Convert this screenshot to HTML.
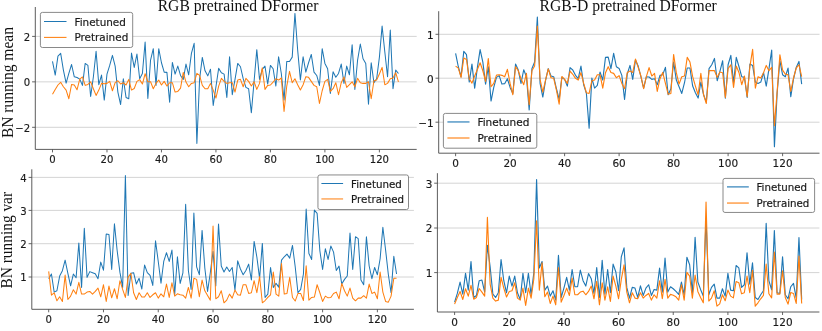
<!DOCTYPE html>
<html><head><meta charset="utf-8"><title>BN statistics</title>
<style>
html,body{margin:0;padding:0;background:#fff;}
body{width:822px;height:331px;overflow:hidden;position:relative;}
svg{position:absolute;left:0;top:0;display:block;}
.t{font-family:"DejaVu Sans","Liberation Sans",sans-serif;font-size:10.1px;fill:#1a1a1a;stroke:#1a1a1a;stroke-width:0.15px;}
.l{font-family:"DejaVu Sans","Liberation Sans",sans-serif;font-size:10.43px;fill:#1a1a1a;stroke:#1a1a1a;stroke-width:0.18px;}
.h{font-family:"Liberation Serif","Times New Roman",serif;font-size:15.4px;fill:#111;}
</style></head>
<body>
<svg width="822" height="331" viewBox="0 0 822 331">
<rect width="822" height="331" fill="#fff"/>
<line x1="35.3" y1="36.4" x2="416.7" y2="36.4" stroke="#cfcfcf" stroke-width="0.9"/>
<line x1="35.3" y1="81.85" x2="416.7" y2="81.85" stroke="#cfcfcf" stroke-width="0.9"/>
<line x1="35.3" y1="127.3" x2="416.7" y2="127.3" stroke="#cfcfcf" stroke-width="0.9"/>
<polyline points="52.5,61.41 55.22,75.06 57.95,56.06 60.67,53.38 63.4,70.11 66.12,83.11 68.84,73.46 71.57,64.49 74.29,76.8 77.02,77.47 79.74,79.08 82.46,85.39 85.19,63.42 87.91,65.43 90.64,96.5 93.36,77 96.08,51.37 98.81,84.72 101.53,75.06 104.26,100.11 106.98,74.12 109.7,65.43 112.43,55.39 115.15,66.09 117.88,92.08 120.6,104.53 123.32,78.7 126.05,97.43 128.77,98.77 131.5,52.98 134.22,67.43 136.94,54.05 139.67,78.7 142.39,73.46 145.12,42.01 147.84,98.37 150.56,60.07 153.29,48.7 156.01,85.39 158.74,48.7 161.46,62.75 164.18,72.12 166.91,72.38 169.63,102.12 172.36,62.48 175.08,74.12 177.8,66.09 180.53,75.46 183.25,79.48 185.98,64.09 188.7,74.79 191.42,53.38 194.15,43.35 196.87,143.5 199.6,79 202.32,57.4 205.04,70.78 207.77,75.86 210.49,69.17 213.22,105.46 215.94,86.73 218.66,68.37 221.39,72.79 224.11,74.12 226.84,97.43 229.56,56.73 232.28,94.76 235.01,79.37 237.73,63.42 240.46,66.76 243.18,78.7 245.9,87.4 248.63,88.73 251.35,112.82 254.08,81.24 256.8,49.64 259.52,79.37 262.25,69.44 264.97,66.09 267.7,84.05 270.42,65.43 273.14,68.77 275.87,86.06 278.59,56.73 281.32,73.46 284.04,100.11 286.76,61.41 289.49,61.41 292.21,57.13 294.94,13.4 297.66,50.04 300.38,80.04 303.11,56.73 305.83,72.12 308.56,62.75 311.28,54.45 314,72.12 316.73,75.46 319.45,85.39 322.18,48.7 324.9,63.42 327.62,68.77 330.35,93.42 333.07,71.85 335.8,77.2 338.52,73.46 341.24,64.09 343.97,83.38 346.69,66.09 349.42,74.79 352.14,44.68 354.86,89.4 357.59,60.07 360.31,44.01 363.04,58.73 365.76,63.42 368.48,104.12 371.21,62.75 373.93,82.71 376.66,78.7 379.38,57.4 382.1,26.1 384.83,52.04 387.55,76.8 390.28,30.1 393,88.73 395.72,70.11 398.45,73.46" fill="none" stroke="#1f77b4" stroke-width="1.02" stroke-opacity="1" stroke-linejoin="round" stroke-linecap="butt"/>
<polyline points="52.5,94.36 55.22,89.4 57.95,84.99 60.67,82.31 63.4,86.73 66.12,90.07 68.84,98.77 71.57,84.45 74.29,84.99 77.02,89.81 79.74,79.1 82.46,76.96 85.19,85.39 87.91,84.45 90.64,81.78 93.36,88.73 96.08,95.43 98.81,90.07 101.53,83.38 104.26,83.65 106.98,83.38 109.7,81.37 112.43,90.74 115.15,82.71 117.88,80.71 120.6,84.05 123.32,82.71 126.05,84.99 128.77,79.37 131.5,90.07 134.22,88.47 136.94,81.37 139.67,79.64 142.39,84.05 145.12,73.75 147.84,81.78 150.56,81.78 153.29,88.73 156.01,83.38 158.74,80.04 161.46,84.99 164.18,81.37 166.91,86.06 169.63,82.71 172.36,82.71 175.08,92.08 177.8,91.41 180.53,88.07 183.25,72.41 185.98,82.04 188.7,86.73 191.42,83.38 194.15,82.71 196.87,73.35 199.6,75.35 202.32,85.39 205.04,88.73 207.77,88.73 210.49,83.38 213.22,90.07 215.94,98.1 218.66,86.06 221.39,78.3 224.11,81.37 226.84,83.38 229.56,82.71 232.28,82.71 235.01,92.08 237.73,80.04 240.46,79.37 243.18,86.73 245.9,78.3 248.63,81.37 251.35,86.06 254.08,81.78 256.8,89.4 259.52,83.38 262.25,67.8 264.97,89.4 267.7,85.39 270.42,84.99 273.14,82.04 275.87,78.7 278.59,80.04 281.32,78.03 284.04,111.48 286.76,86.06 289.49,71.34 292.21,82.71 294.94,78.7 297.66,84.72 300.38,90.07 303.11,84.72 305.83,76.69 308.56,77.36 311.28,81.37 314,85.39 316.73,86.73 319.45,103.46 322.18,90.74 324.9,81.37 327.62,79.37 330.35,91.41 333.07,88.73 335.8,82.71 338.52,94.76 341.24,82.71 343.97,76.96 346.69,87.4 349.42,84.72 352.14,81.78 354.86,86.73 357.59,78.3 360.31,82.71 363.04,83.38 365.76,83.38 368.48,81.78 371.21,98.77 373.93,80.71 376.66,80.04 379.38,74.01 382.1,67.4 384.83,84.72 387.55,83.38 390.28,78.7 393,78.03 395.72,72.68 398.45,81.78" fill="none" stroke="#ff7f0e" stroke-width="1.02" stroke-opacity="1" stroke-linejoin="round" stroke-linecap="butt"/>
<path d="M35.3 7V149.4H416.7" fill="none" stroke="#4a4a4a" stroke-width="0.9"/>
<line x1="32.1" y1="36.4" x2="35.3" y2="36.4" stroke="#4a4a4a" stroke-width="0.85"/>
<text transform="translate(30.2,40.7) scale(1,1.05)" text-anchor="end" class="t" style="font-size:10.1px">2</text>
<line x1="32.1" y1="81.85" x2="35.3" y2="81.85" stroke="#4a4a4a" stroke-width="0.85"/>
<text transform="translate(30.2,86.15) scale(1,1.05)" text-anchor="end" class="t" style="font-size:10.1px">0</text>
<line x1="32.1" y1="127.3" x2="35.3" y2="127.3" stroke="#4a4a4a" stroke-width="0.85"/>
<text transform="translate(30.2,131.6) scale(1,1.05)" text-anchor="end" class="t" style="font-size:10.1px">−2</text>
<line x1="52.5" y1="149.4" x2="52.5" y2="152.4" stroke="#4a4a4a" stroke-width="0.85"/>
<text transform="translate(52.5,162.9) scale(1,1.05)" text-anchor="middle" class="t" style="font-size:10.1px">0</text>
<line x1="106.98" y1="149.4" x2="106.98" y2="152.4" stroke="#4a4a4a" stroke-width="0.85"/>
<text transform="translate(106.98,162.9) scale(1,1.05)" text-anchor="middle" class="t" style="font-size:10.1px">20</text>
<line x1="161.46" y1="149.4" x2="161.46" y2="152.4" stroke="#4a4a4a" stroke-width="0.85"/>
<text transform="translate(161.46,162.9) scale(1,1.05)" text-anchor="middle" class="t" style="font-size:10.1px">40</text>
<line x1="215.94" y1="149.4" x2="215.94" y2="152.4" stroke="#4a4a4a" stroke-width="0.85"/>
<text transform="translate(215.94,162.9) scale(1,1.05)" text-anchor="middle" class="t" style="font-size:10.1px">60</text>
<line x1="270.42" y1="149.4" x2="270.42" y2="152.4" stroke="#4a4a4a" stroke-width="0.85"/>
<text transform="translate(270.42,162.9) scale(1,1.05)" text-anchor="middle" class="t" style="font-size:10.1px">80</text>
<line x1="324.9" y1="149.4" x2="324.9" y2="152.4" stroke="#4a4a4a" stroke-width="0.85"/>
<text transform="translate(324.9,162.9) scale(1,1.05)" text-anchor="middle" class="t" style="font-size:10.1px">100</text>
<line x1="379.38" y1="149.4" x2="379.38" y2="152.4" stroke="#4a4a4a" stroke-width="0.85"/>
<text transform="translate(379.38,162.9) scale(1,1.05)" text-anchor="middle" class="t" style="font-size:10.1px">120</text>
<rect x="40.4" y="12.4" width="92.3" height="35.1" rx="2" ry="2" fill="#fff" fill-opacity="0.95" stroke="#7c7c7c" stroke-width="0.9"/>
<line x1="44" y1="21.5" x2="66.5" y2="21.5" stroke="#1f77b4" stroke-width="1.02" stroke-opacity="1"/>
<line x1="44" y1="37.4" x2="66.5" y2="37.4" stroke="#ff7f0e" stroke-width="1.02" stroke-opacity="1"/>
<text x="74.4" y="25.5" class="l" style="font-size:10.43px">Finetuned</text>
<text x="74.4" y="41.2" class="l" style="font-size:10.43px">Pretrained</text>
<line x1="438.7" y1="34.3" x2="819.5" y2="34.3" stroke="#cfcfcf" stroke-width="0.9"/>
<line x1="438.7" y1="78.2" x2="819.5" y2="78.2" stroke="#cfcfcf" stroke-width="0.9"/>
<line x1="438.7" y1="122.2" x2="819.5" y2="122.2" stroke="#cfcfcf" stroke-width="0.9"/>
<polyline points="455.6,53.37 458.33,66.75 461.05,76.79 463.78,51.36 466.5,54.71 469.23,82.06 471.95,64.07 474.68,88.08 477.4,67.42 480.12,49.62 482.85,62.07 485.58,84.07 488.3,66.75 491.03,101.06 493.75,87.41 496.48,77.37 499.2,75.64 501.93,84.07 504.65,83.66 507.38,78.71 510.1,87.41 512.83,93.43 515.55,64.07 518.27,70.09 521,83.4 523.73,69.75 526.45,76.71 529.18,110 531.9,68.76 534.62,62.07 537.35,17.1 540.08,83.4 542.8,97.05 545.52,80.72 548.25,68.68 550.98,76.04 553.7,76.71 556.43,88.75 559.15,99.46 561.88,77.37 564.6,79.38 567.33,86.07 570.05,67.61 572.77,70.01 575.5,75.37 578.23,78.71 580.95,66 583.68,84.73 586.4,93.43 589.12,128.1 591.85,78.04 594.58,88.08 597.3,85.4 600.03,72.02 602.75,80.05 605.48,57.38 608.2,57.11 610.93,68.68 613.65,53.37 616.38,66.75 619.1,68.41 621.83,75.37 624.55,99.46 627.28,74.03 630,65.41 632.73,79.38 635.45,60.06 638.18,66.08 640.9,76.71 643.62,88.08 646.35,76.71 649.08,76.97 651.8,79.38 654.53,78.71 657.25,84.73 659.98,75.37 662.7,74.7 665.43,67.34 668.15,94.77 670.88,88.75 673.6,62.07 676.33,80.05 679.05,86.74 681.78,93.43 684.5,82.73 687.23,68.01 689.95,68.01 692.68,86.07 695.4,92.76 698.12,98.12 700.85,82.06 703.58,94.77 706.3,102.13 709.03,68.68 711.75,64.74 714.48,58.45 717.2,80.72 719.92,71.35 722.65,60.73 725.38,98.12 728.1,64.74 730.83,55.37 733.55,82.73 736.28,57.38 739,66.75 741.73,76.71 744.45,77.37 747.17,97.45 749.9,64.07 752.62,65.41 755.35,82.06 758.08,83.4 760.8,82.06 763.53,72.69 766.25,86.07 768.98,68.68 771.7,50.02 774.42,146.8 777.15,92.76 779.88,60.73 782.6,74.78 785.33,76.79 788.05,68.09 790.78,96.78 793.5,79 796.23,67.42 798.95,61.4 801.67,84.07" fill="none" stroke="#1f77b4" stroke-width="1.12" stroke-opacity="1" stroke-linejoin="round" stroke-linecap="butt"/>
<polyline points="455.6,66.08 458.33,68.09 461.05,77.37 463.78,58.05 466.5,59.39 469.23,78.71 471.95,83.13 474.68,76.04 477.4,69.43 480.12,62.73 482.85,70.76 485.58,81.39 488.3,58.45 491.03,86.74 493.75,83.4 496.48,75.1 499.2,74.7 501.93,75.37 504.65,76.71 507.38,69.35 510.1,83.4 512.83,94.77 515.55,66.75 518.27,70.76 521,78.71 523.73,84.73 526.45,73.36 529.18,104.81 531.9,70.68 534.62,66.08 537.35,26.1 540.08,79.38 542.8,92.09 545.52,80.05 548.25,68.94 550.98,77.78 553.7,78.31 556.43,90.09 559.15,104.14 561.88,76.44 564.6,79.38 567.33,83.4 570.05,71.09 572.77,74.3 575.5,78.31 578.23,80.05 580.95,72.69 583.68,83.4 586.4,92.76 589.12,93.43 591.85,80.72 594.58,80.05 597.3,74.7 600.03,74.7 602.75,88.08 605.48,72.69 608.2,66.67 610.93,72.42 613.65,73.36 616.38,77.78 619.1,75.64 621.83,83.4 624.55,88.75 627.28,72.42 630,71.09 632.73,72.42 635.45,58.99 638.18,67.34 640.9,76.04 643.62,88.75 646.35,76.71 649.08,67.61 651.8,76.04 654.53,73.36 657.25,91.43 659.98,78.71 662.7,72.42 665.43,83.4 668.15,94.1 670.88,93.43 673.6,54.44 676.33,72.69 679.05,84.07 681.78,76.71 684.5,76.04 687.23,57.38 689.95,62.07 692.68,76.71 695.4,86.07 698.12,94.77 700.85,73.36 703.58,94.77 706.3,103.47 709.03,70.68 711.75,70.68 714.48,70.68 717.2,77.37 719.92,72.02 722.65,72.69 725.38,97.45 728.1,68.68 730.83,64.74 733.55,87.41 736.28,66.08 739,72.69 741.73,84.73 744.45,76.04 747.17,96.78 749.9,66.67 752.62,49.35 755.35,88.08 758.08,76.71 760.8,78.04 763.53,72.69 766.25,65.41 768.98,70.68 771.7,67.42 774.42,125.8 777.15,91.43 779.88,54.71 782.6,70.09 785.33,74.11 788.05,74.78 790.78,91.43 793.5,78 796.23,68.09 798.95,64.74 801.67,76.71" fill="none" stroke="#ff7f0e" stroke-width="1.12" stroke-opacity="1" stroke-linejoin="round" stroke-linecap="butt"/>
<path d="M438.7 11.2V153.2H819.5" fill="none" stroke="#4a4a4a" stroke-width="0.9"/>
<line x1="435.5" y1="34.3" x2="438.7" y2="34.3" stroke="#4a4a4a" stroke-width="0.85"/>
<text transform="translate(433.6,38.6) scale(1,1.05)" text-anchor="end" class="t" style="font-size:10.5px">1</text>
<line x1="435.5" y1="78.2" x2="438.7" y2="78.2" stroke="#4a4a4a" stroke-width="0.85"/>
<text transform="translate(433.6,82.5) scale(1,1.05)" text-anchor="end" class="t" style="font-size:10.5px">0</text>
<line x1="435.5" y1="122.2" x2="438.7" y2="122.2" stroke="#4a4a4a" stroke-width="0.85"/>
<text transform="translate(433.6,126.5) scale(1,1.05)" text-anchor="end" class="t" style="font-size:10.5px">−1</text>
<line x1="455.6" y1="153.2" x2="455.6" y2="156.2" stroke="#4a4a4a" stroke-width="0.85"/>
<text transform="translate(455.6,166.7) scale(1,1.05)" text-anchor="middle" class="t" style="font-size:10.5px">0</text>
<line x1="510.1" y1="153.2" x2="510.1" y2="156.2" stroke="#4a4a4a" stroke-width="0.85"/>
<text transform="translate(510.1,166.7) scale(1,1.05)" text-anchor="middle" class="t" style="font-size:10.5px">20</text>
<line x1="564.6" y1="153.2" x2="564.6" y2="156.2" stroke="#4a4a4a" stroke-width="0.85"/>
<text transform="translate(564.6,166.7) scale(1,1.05)" text-anchor="middle" class="t" style="font-size:10.5px">40</text>
<line x1="619.1" y1="153.2" x2="619.1" y2="156.2" stroke="#4a4a4a" stroke-width="0.85"/>
<text transform="translate(619.1,166.7) scale(1,1.05)" text-anchor="middle" class="t" style="font-size:10.5px">60</text>
<line x1="673.6" y1="153.2" x2="673.6" y2="156.2" stroke="#4a4a4a" stroke-width="0.85"/>
<text transform="translate(673.6,166.7) scale(1,1.05)" text-anchor="middle" class="t" style="font-size:10.5px">80</text>
<line x1="728.1" y1="153.2" x2="728.1" y2="156.2" stroke="#4a4a4a" stroke-width="0.85"/>
<text transform="translate(728.1,166.7) scale(1,1.05)" text-anchor="middle" class="t" style="font-size:10.5px">100</text>
<line x1="782.6" y1="153.2" x2="782.6" y2="156.2" stroke="#4a4a4a" stroke-width="0.85"/>
<text transform="translate(782.6,166.7) scale(1,1.05)" text-anchor="middle" class="t" style="font-size:10.5px">120</text>
<rect x="443.4" y="113.4" width="93.4" height="34.8" rx="2" ry="2" fill="#fff" fill-opacity="0.95" stroke="#7c7c7c" stroke-width="0.9"/>
<line x1="447.4" y1="121.95" x2="469.5" y2="121.95" stroke="#1f77b4" stroke-width="1.12" stroke-opacity="1"/>
<line x1="447.4" y1="138" x2="469.5" y2="138" stroke="#ff7f0e" stroke-width="1.12" stroke-opacity="1"/>
<text x="477.4" y="125.8" class="l" style="font-size:10.52px">Finetuned</text>
<text x="477.4" y="141.6" class="l" style="font-size:10.52px">Pretrained</text>
<line x1="31.8" y1="177.4" x2="413.9" y2="177.4" stroke="#cfcfcf" stroke-width="0.9"/>
<line x1="31.8" y1="210.4" x2="413.9" y2="210.4" stroke="#cfcfcf" stroke-width="0.9"/>
<line x1="31.8" y1="243.7" x2="413.9" y2="243.7" stroke="#cfcfcf" stroke-width="0.9"/>
<line x1="31.8" y1="277" x2="413.9" y2="277" stroke="#cfcfcf" stroke-width="0.9"/>
<polyline points="48.7,278.71 51.44,274.03 54.18,292.09 56.92,290.76 59.66,276.04 62.4,270.68 65.13,260.12 67.87,273.36 70.61,285.81 73.35,274.03 76.09,277.78 78.83,242.99 81.57,287.41 84.31,228.2 87.05,277.37 89.78,271.62 92.52,272.69 95.26,273.76 98,278.71 100.74,262.12 103.48,270.15 106.22,234.02 108.96,234.42 111.7,269.48 114.44,223.8 117.17,250.75 119.91,272.16 122.65,287.41 125.39,175.6 128.13,295.44 130.87,273.36 133.61,272.69 136.35,284.07 139.09,278.31 141.83,289.02 144.56,265 147.3,272.69 150.04,275.37 152.78,285.4 155.52,240.71 158.26,261.46 161,283.13 163.74,261.46 166.48,252.76 169.22,261.46 171.95,250.08 174.69,294.77 177.43,256.77 180.17,283.4 182.91,272.8 185.65,204.3 188.39,270.7 191.13,289.42 193.87,213 196.61,266.81 199.34,274.7 202.08,230.4 204.82,268 207.56,291.43 210.3,272.7 213.04,251.4 215.78,286.1 218.52,224.1 221.26,266 224,272 226.74,267 229.47,271.5 232.21,267.5 234.95,290.1 237.69,260.8 240.43,269 243.17,274.7 245.91,270.5 248.65,264.1 251.39,280 254.12,241.4 256.86,257 259.6,278.4 262.34,243.39 265.08,297.45 267.82,294.1 270.56,267.48 273.3,287.41 276.04,283.4 278.78,287.14 281.51,260.12 284.25,256.77 286.99,254.09 289.73,258.11 292.47,245.4 295.21,266.81 297.95,292.76 300.69,289.42 303.43,274.03 306.17,209.1 308.9,253.43 311.64,259.45 314.38,210.1 317.12,213.4 319.86,250.75 322.6,269.48 325.34,248.74 328.08,259.45 330.82,246.07 333.56,252.09 336.29,270.5 339.03,266.14 341.77,284.07 344.51,279.38 347.25,276.04 349.99,233.1 352.73,269.48 355.47,236.7 358.21,238.71 360.95,280.05 363.69,284.73 366.42,236.8 369.16,266 371.9,278.71 374.64,267.48 377.38,274.7 380.12,258.78 382.86,227.3 385.6,250 388.34,274.5 391.07,292.76 393.81,256.37 396.55,274.03" fill="none" stroke="#1f77b4" stroke-width="1.02" stroke-opacity="1" stroke-linejoin="round" stroke-linecap="butt"/>
<polyline points="48.7,271.35 51.44,295.17 54.18,292.76 56.92,300.79 59.66,296.78 62.4,301.46 65.13,275.1 67.87,299.46 70.61,296.11 73.35,289.82 76.09,294.1 78.83,282.33 81.57,294.1 84.31,294.1 87.05,292.09 89.78,291.43 92.52,294.1 95.26,291.43 98,288.08 100.74,296.78 103.48,284.73 106.22,301.46 108.96,286.07 111.7,297.85 114.44,288.75 117.17,298.79 119.91,280.72 122.65,289.42 125.39,297.45 128.13,277.37 130.87,273.36 133.61,292.76 136.35,299.46 139.09,292.76 141.83,297.05 144.56,297.05 147.3,292.76 150.04,297.45 152.78,294.77 155.52,292.76 158.26,298.12 161,293.83 163.74,296.78 166.48,284.07 169.22,297.45 171.95,282.73 174.69,296.11 177.43,293.83 180.17,294.77 182.91,295.17 185.65,298.12 188.39,287.41 191.13,298.12 193.87,278.31 196.61,279.38 199.34,296.78 202.08,280.05 204.82,290.76 207.56,295.44 210.3,300.12 213.04,226.1 215.78,298.79 218.52,296.78 221.26,290.76 224,302.8 226.74,300.12 229.47,294.1 232.21,298.12 234.95,290.09 237.69,294.77 240.43,295.17 243.17,284.73 245.91,284.73 248.65,293.43 251.39,292.76 254.12,280.72 256.86,292.76 259.6,276.71 262.34,302.8 265.08,300.53 267.82,297.45 270.56,294.77 273.3,272.02 276.04,294.1 278.78,296.11 281.51,263.5 284.25,294.1 286.99,293.43 289.73,277.37 292.47,297.45 295.21,301.06 297.95,293.43 300.69,293.43 303.43,300.53 306.17,265.8 308.9,300.12 311.64,297.45 314.38,297.05 317.12,284.73 319.86,292.76 322.6,301.46 325.34,296.11 328.08,297.85 330.82,297.45 333.56,293.43 336.29,292.09 339.03,298.79 341.77,283.4 344.51,290.76 347.25,296.11 349.99,288.08 352.73,298.12 355.47,300.79 358.21,298.12 360.95,298.12 363.69,295.71 366.42,298.12 369.16,284.07 371.9,293.43 374.64,292.09 377.38,298.79 380.12,272.02 382.86,292.09 385.6,301.46 388.34,302.13 391.07,296.11 393.81,278.31 396.55,278.31" fill="none" stroke="#ff7f0e" stroke-width="1.02" stroke-opacity="1" stroke-linejoin="round" stroke-linecap="butt"/>
<path d="M31.8 169.3V309.3H413.9" fill="none" stroke="#4a4a4a" stroke-width="0.9"/>
<line x1="28.6" y1="177.4" x2="31.8" y2="177.4" stroke="#4a4a4a" stroke-width="0.85"/>
<text transform="translate(26.7,181.7) scale(1,1.05)" text-anchor="end" class="t" style="font-size:10.1px">4</text>
<line x1="28.6" y1="210.4" x2="31.8" y2="210.4" stroke="#4a4a4a" stroke-width="0.85"/>
<text transform="translate(26.7,214.7) scale(1,1.05)" text-anchor="end" class="t" style="font-size:10.1px">3</text>
<line x1="28.6" y1="243.7" x2="31.8" y2="243.7" stroke="#4a4a4a" stroke-width="0.85"/>
<text transform="translate(26.7,248) scale(1,1.05)" text-anchor="end" class="t" style="font-size:10.1px">2</text>
<line x1="28.6" y1="277" x2="31.8" y2="277" stroke="#4a4a4a" stroke-width="0.85"/>
<text transform="translate(26.7,281.3) scale(1,1.05)" text-anchor="end" class="t" style="font-size:10.1px">1</text>
<line x1="48.7" y1="309.3" x2="48.7" y2="312.3" stroke="#4a4a4a" stroke-width="0.85"/>
<text transform="translate(48.7,322.8) scale(1,1.05)" text-anchor="middle" class="t" style="font-size:10.1px">0</text>
<line x1="103.48" y1="309.3" x2="103.48" y2="312.3" stroke="#4a4a4a" stroke-width="0.85"/>
<text transform="translate(103.48,322.8) scale(1,1.05)" text-anchor="middle" class="t" style="font-size:10.1px">20</text>
<line x1="158.26" y1="309.3" x2="158.26" y2="312.3" stroke="#4a4a4a" stroke-width="0.85"/>
<text transform="translate(158.26,322.8) scale(1,1.05)" text-anchor="middle" class="t" style="font-size:10.1px">40</text>
<line x1="213.04" y1="309.3" x2="213.04" y2="312.3" stroke="#4a4a4a" stroke-width="0.85"/>
<text transform="translate(213.04,322.8) scale(1,1.05)" text-anchor="middle" class="t" style="font-size:10.1px">60</text>
<line x1="267.82" y1="309.3" x2="267.82" y2="312.3" stroke="#4a4a4a" stroke-width="0.85"/>
<text transform="translate(267.82,322.8) scale(1,1.05)" text-anchor="middle" class="t" style="font-size:10.1px">80</text>
<line x1="322.6" y1="309.3" x2="322.6" y2="312.3" stroke="#4a4a4a" stroke-width="0.85"/>
<text transform="translate(322.6,322.8) scale(1,1.05)" text-anchor="middle" class="t" style="font-size:10.1px">100</text>
<line x1="377.38" y1="309.3" x2="377.38" y2="312.3" stroke="#4a4a4a" stroke-width="0.85"/>
<text transform="translate(377.38,322.8) scale(1,1.05)" text-anchor="middle" class="t" style="font-size:10.1px">120</text>
<rect x="317.95" y="174.95" width="90.55" height="34.55" rx="2" ry="2" fill="#fff" fill-opacity="0.95" stroke="#7c7c7c" stroke-width="0.9"/>
<line x1="321.4" y1="183.5" x2="343.1" y2="183.5" stroke="#1f77b4" stroke-width="1.02" stroke-opacity="1"/>
<line x1="321.4" y1="198.95" x2="343.1" y2="198.95" stroke="#ff7f0e" stroke-width="1.02" stroke-opacity="1"/>
<text x="351.1" y="187.5" class="l" style="font-size:10.28px">Finetuned</text>
<text x="351.1" y="202.9" class="l" style="font-size:10.28px">Pretrained</text>
<line x1="437.4" y1="183.2" x2="819.4" y2="183.2" stroke="#cfcfcf" stroke-width="0.9"/>
<line x1="437.4" y1="228" x2="819.4" y2="228" stroke="#cfcfcf" stroke-width="0.9"/>
<line x1="437.4" y1="272.6" x2="819.4" y2="272.6" stroke="#cfcfcf" stroke-width="0.9"/>
<polyline points="454.6,302.13 457.33,293.43 460.07,282.06 462.8,294.1 465.53,273.36 468.27,290.09 471,261.46 473.73,297.45 476.46,295.44 479.2,280.72 481.93,280.05 484.66,292.09 487.4,245.4 490.13,266.81 492.86,294.1 495.6,297.45 498.33,292.76 501.06,259.45 503.79,280.72 506.53,292.76 509.26,276.04 511.99,286.07 514.73,276.04 517.46,292.76 520.19,299.46 522.93,273.36 525.66,292.76 528.39,273.36 531.12,294.77 533.86,272.69 536.59,179.6 539.32,268 542.06,261.46 544.79,290.09 547.52,286.07 550.25,296.11 552.99,290.76 555.72,300.12 558.45,255.4 561.19,297.45 563.92,288.08 566.65,277.37 569.39,290.09 572.12,269.5 574.85,286.74 577.59,286.74 580.32,270.1 583.05,280.72 585.78,286.07 588.52,273.5 591.25,278.71 593.98,293.43 596.72,267.5 599.45,297.45 602.18,260.4 604.91,294.1 607.65,269.5 610.38,292.76 613.11,264.1 615.85,272 618.58,290.76 621.31,256.8 624.05,247.8 626.78,287.41 629.51,298.12 632.25,287.41 634.98,288.08 637.71,297.45 640.44,285.81 643.18,295.44 645.91,288.08 648.64,284.73 651.38,295.44 654.11,289.42 656.84,290.09 659.58,268.1 662.31,292.09 665.04,258.1 667.77,292.09 670.51,286.74 673.24,288.75 675.97,291.43 678.71,294.37 681.44,282.06 684.17,294.77 686.9,257.2 689.64,264.8 692.37,292.76 695.1,237.4 697.84,282.06 700.57,289.42 703.3,296.11 706.04,218 708.77,294.77 711.5,287.41 714.24,284.07 716.97,298.12 719.7,298.12 722.43,288.75 725.17,296.11 727.9,273.36 730.63,290.09 733.37,290.76 736.1,265.5 738.83,267.9 741.57,287.41 744.3,284.73 747.03,252.7 749.76,284.07 752.5,262.8 755.23,297.45 757.96,299.46 760.7,294.77 763.43,290.76 766.16,223.4 768.89,280.72 771.63,289.82 774.36,230.5 777.09,292.76 779.83,293.43 782.56,256.8 785.29,294.77 788.03,298.79 790.76,286.74 793.49,283.4 796.23,298.12 798.96,237.6 801.69,299.46" fill="none" stroke="#1f77b4" stroke-width="1.12" stroke-opacity="1" stroke-linejoin="round" stroke-linecap="butt"/>
<polyline points="454.6,304.14 457.33,297.45 460.07,291.43 462.8,299.46 465.53,288.75 468.27,296.11 471,285.4 473.73,299.19 476.46,297.45 479.2,288.48 481.93,292.09 484.66,296.11 487.4,217.4 490.13,284.07 492.86,298.12 495.6,301.06 498.33,300.12 501.06,277.37 503.79,288.08 506.53,297.05 509.26,291.43 511.99,290.76 514.73,282.73 517.46,298.12 520.19,300.12 522.93,288.08 525.66,305.48 528.39,288.08 531.12,298.12 533.86,278.71 536.59,220.8 539.32,290.09 542.06,262.79 544.79,296.78 547.52,292.09 550.25,303.47 552.99,296.11 555.72,304.81 558.45,267.5 561.19,302.13 563.92,295.44 566.65,288.08 569.39,295.44 572.12,278.04 574.85,294.77 577.59,294.77 580.32,292.09 583.05,291.16 585.78,294.77 588.52,291.43 591.25,286.07 593.98,298.79 596.72,281.39 599.45,304.81 602.18,282.73 604.91,300.12 607.65,286.74 610.38,301.46 613.11,276.04 615.85,286.07 618.58,298.79 621.31,279.38 624.05,264.8 626.78,292.09 629.51,302.8 632.25,292.76 634.98,298.12 637.71,298.79 640.44,292.76 643.18,298.12 645.91,295.44 648.64,293.43 651.38,300.12 654.11,294.77 656.84,298.12 659.58,280.72 662.31,298.79 665.04,279.38 667.77,298.12 670.51,294.37 673.24,295.17 675.97,296.78 678.71,300.12 681.44,284.73 684.17,300.12 686.9,272.4 689.64,276.04 692.37,298.12 695.1,275.1 697.84,291.43 700.57,297.45 703.3,302.8 706.04,202 708.77,301.06 711.5,298.12 714.24,290.76 716.97,306.15 719.7,303.87 722.43,294.77 725.17,300.79 727.9,290.09 730.63,296.11 733.37,297.85 736.1,281.52 738.83,282.73 741.57,293.83 744.3,292.76 747.03,276.04 749.76,292.76 752.5,270.4 755.23,306.15 757.96,302.8 760.7,298.79 763.43,295.44 766.16,264.1 768.89,293.7 771.63,297.85 774.36,252.1 777.09,294.1 779.83,294.1 782.56,270.8 785.29,297.45 788.03,304.14 790.76,292.5 793.49,293.43 796.23,303.47 798.96,256.1 801.69,303.47" fill="none" stroke="#ff7f0e" stroke-width="1.12" stroke-opacity="1" stroke-linejoin="round" stroke-linecap="butt"/>
<path d="M437.4 173.2V312H819.4" fill="none" stroke="#4a4a4a" stroke-width="0.9"/>
<line x1="434.2" y1="183.2" x2="437.4" y2="183.2" stroke="#4a4a4a" stroke-width="0.85"/>
<text transform="translate(432.3,187.5) scale(1,1.05)" text-anchor="end" class="t" style="font-size:10.5px">3</text>
<line x1="434.2" y1="228" x2="437.4" y2="228" stroke="#4a4a4a" stroke-width="0.85"/>
<text transform="translate(432.3,232.3) scale(1,1.05)" text-anchor="end" class="t" style="font-size:10.5px">2</text>
<line x1="434.2" y1="272.6" x2="437.4" y2="272.6" stroke="#4a4a4a" stroke-width="0.85"/>
<text transform="translate(432.3,276.9) scale(1,1.05)" text-anchor="end" class="t" style="font-size:10.5px">1</text>
<line x1="454.6" y1="312" x2="454.6" y2="315" stroke="#4a4a4a" stroke-width="0.85"/>
<text transform="translate(454.6,325.5) scale(1,1.05)" text-anchor="middle" class="t" style="font-size:10.5px">0</text>
<line x1="509.26" y1="312" x2="509.26" y2="315" stroke="#4a4a4a" stroke-width="0.85"/>
<text transform="translate(509.26,325.5) scale(1,1.05)" text-anchor="middle" class="t" style="font-size:10.5px">20</text>
<line x1="563.92" y1="312" x2="563.92" y2="315" stroke="#4a4a4a" stroke-width="0.85"/>
<text transform="translate(563.92,325.5) scale(1,1.05)" text-anchor="middle" class="t" style="font-size:10.5px">40</text>
<line x1="618.58" y1="312" x2="618.58" y2="315" stroke="#4a4a4a" stroke-width="0.85"/>
<text transform="translate(618.58,325.5) scale(1,1.05)" text-anchor="middle" class="t" style="font-size:10.5px">60</text>
<line x1="673.24" y1="312" x2="673.24" y2="315" stroke="#4a4a4a" stroke-width="0.85"/>
<text transform="translate(673.24,325.5) scale(1,1.05)" text-anchor="middle" class="t" style="font-size:10.5px">80</text>
<line x1="727.9" y1="312" x2="727.9" y2="315" stroke="#4a4a4a" stroke-width="0.85"/>
<text transform="translate(727.9,325.5) scale(1,1.05)" text-anchor="middle" class="t" style="font-size:10.5px">100</text>
<line x1="782.56" y1="312" x2="782.56" y2="315" stroke="#4a4a4a" stroke-width="0.85"/>
<text transform="translate(782.56,325.5) scale(1,1.05)" text-anchor="middle" class="t" style="font-size:10.5px">120</text>
<rect x="723" y="178.4" width="91.6" height="34.05" rx="2" ry="2" fill="#fff" fill-opacity="0.95" stroke="#7c7c7c" stroke-width="0.9"/>
<line x1="727" y1="186.9" x2="748.8" y2="186.9" stroke="#1f77b4" stroke-width="1.12" stroke-opacity="1"/>
<line x1="727" y1="203.05" x2="748.8" y2="203.05" stroke="#ff7f0e" stroke-width="1.12" stroke-opacity="1"/>
<text x="756.4" y="190.6" class="l" style="font-size:10.25px">Finetuned</text>
<text x="756.4" y="206.6" class="l" style="font-size:10.25px">Pretrained</text>
<text transform="translate(238,11.0) scale(1,1.02)" text-anchor="middle" class="h" style="font-size:15.65px">RGB pretrained DFormer</text>
<text transform="translate(628.2,11.2) scale(1,1.02)" text-anchor="middle" class="h" style="font-size:15.65px">RGB-D pretrained DFormer</text>
<text transform="translate(12.5,82.6) rotate(-90) scale(1,1.085)" text-anchor="middle" class="h" style="font-size:15.5px">BN running mean</text>
<text transform="translate(12.3,240.2) rotate(-90) scale(1,1.085)" text-anchor="middle" class="h">BN running var</text>
</svg>
</body></html>
